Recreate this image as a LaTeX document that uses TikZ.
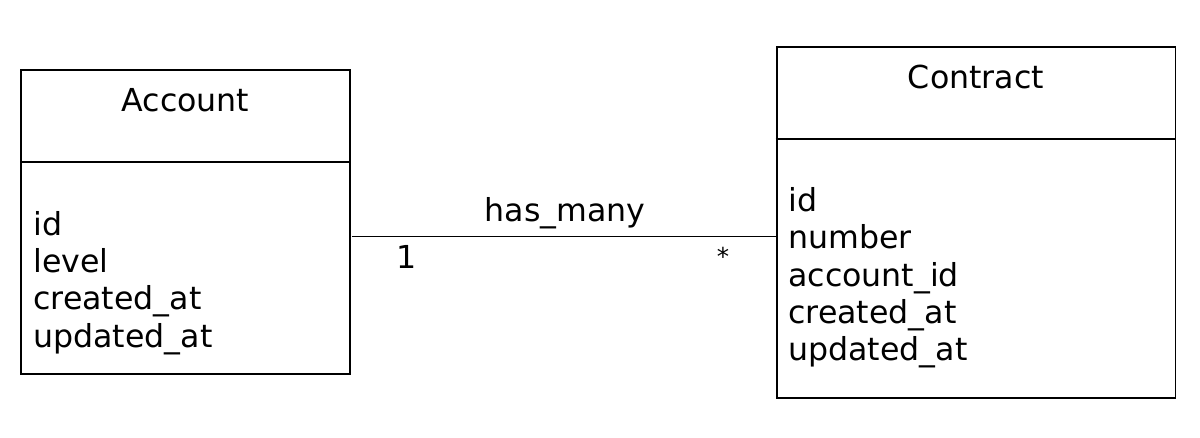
\documentclass[tikz,border=0pt]{standalone}
\usepackage{fontspec}
\setmainfont{DejaVu Sans}
\begin{document}
\begin{tikzpicture}[x=0.02cm,y=-0.02cm,
  box/.style={draw=black, line width=1.1pt, inner sep=0pt},
  txt/.style={inner sep=0pt, font=\fontsize{18}{21}\selectfont},
  attr/.style={txt, anchor=base west},
  ttl/.style={txt, anchor=base},
  link/.style={draw=black, line width=1.1pt}]
\useasboundingbox[fill=white] (0,0) rectangle (1200,437);
% Account
\node[box, minimum width=6.58cm, minimum height=6.08cm] (acc) at (185.5,222) {};
\draw[link] (acc.west |- 0,162) coordinate (accdl) -- (acc.east |- 0,162) coordinate (accdr);
\node[ttl] (accT) at (185.5,111.5) {Account};
\node[attr] (a1) at (33,235) {id};
\node[attr] (a2) at (33,272.3) {level};
\node[attr] (a3) at (33,309.6) {created\_at};
\node[attr] (a4) at (33,347) {updated\_at};
% Contract
\node[box, minimum width=7.98cm, minimum height=7.02cm] (con) at (976,222.5) {};
\draw[link] (con.west |- 0,138.7) coordinate (condl) -- (con.east |- 0,138.7) coordinate (condr);
\node[ttl] (conT) at (976,88.3) {Contract};
\node[attr] (c1) at (788,211.5) {id};
\node[attr] (c2) at (788,248.8) {number};
\node[attr] (c3) at (788,286.1) {account\_id};
\node[attr] (c4) at (788,323.4) {created\_at};
\node[attr] (c5) at (788,360.7) {updated\_at};
% association
\coordinate (s) at (351.5,236.5);
\draw[link] (s) -- (con.west |- s) coordinate (e);
\node[ttl] (lbl) at (565,221.5) {has\_many};
\node[ttl] (m1) at (406.5,268) {1};
\node[ttl, font=\fontsize{14}{16}\selectfont] (m2) at (723,265.5) {*};
\end{tikzpicture}
\end{document}
